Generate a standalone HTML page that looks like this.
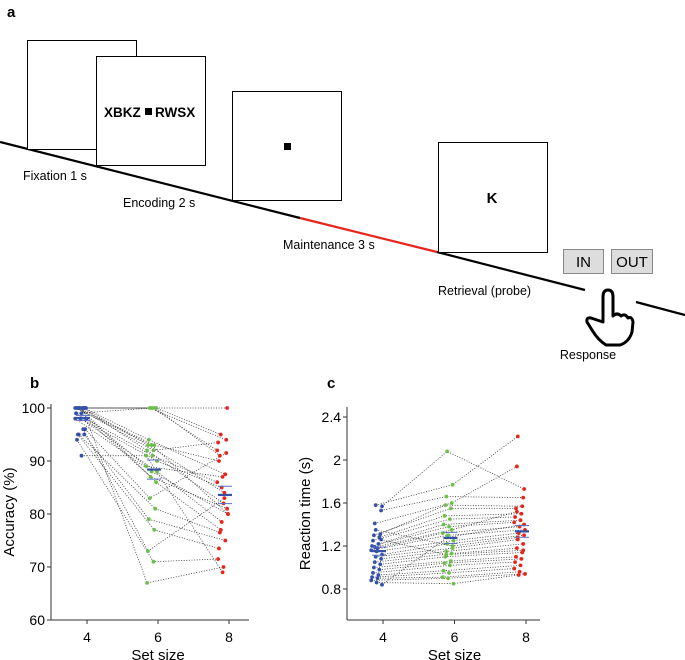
<!DOCTYPE html>
<html><head><meta charset="utf-8"><style>
body{margin:0;background:#fff;}
svg{display:block;font-family:"Liberation Sans",Arial,sans-serif;}
</style></head><body>
<svg id="fig" width="685" height="660" viewBox="0 0 685 660">
<g>
<text x="7" y="17" font-size="15" font-weight="bold">a</text>
<line x1="0" y1="142" x2="300" y2="218" stroke="#000" stroke-width="2.2"/>
<line x1="300" y1="218" x2="437" y2="252" stroke="#e8251d" stroke-width="2.2"/>
<line x1="437" y1="252" x2="585" y2="290" stroke="#000" stroke-width="2.2"/>
<line x1="636" y1="302" x2="685" y2="315" stroke="#000" stroke-width="2.2"/>
<rect x="27.5" y="40.5" width="109" height="109" fill="#fff" stroke="#000" stroke-width="1"/>
<rect x="96.5" y="56.5" width="109" height="109" fill="#fff" stroke="#000" stroke-width="1"/>
<text x="104" y="117" font-size="13.5" font-weight="bold">XBKZ</text>
<rect x="145" y="108" width="7" height="7" fill="#000"/>
<text x="155" y="117" font-size="13.5" font-weight="bold">RWSX</text>
<rect x="232.5" y="91.5" width="109" height="109" fill="#fff" stroke="#000" stroke-width="1"/>
<rect x="284" y="143" width="7" height="7" fill="#000"/>
<rect x="438.5" y="142.5" width="109" height="110" fill="#fff" stroke="#000" stroke-width="1"/>
<text x="492" y="203" font-size="15" font-weight="bold" text-anchor="middle">K</text>
<text x="23" y="180" font-size="12.5">Fixation 1 s</text>
<text x="123" y="207" font-size="12.5">Encoding 2 s</text>
<text x="283" y="249" font-size="12.5">Maintenance 3 s</text>
<text x="438" y="295" font-size="12.5">Retrieval (probe)</text>
<rect x="563.5" y="249.5" width="40" height="24" fill="#ddd" stroke="#888"/>
<text x="583.5" y="267" font-size="15" text-anchor="middle">IN</text>
<rect x="611.5" y="249.5" width="41" height="24" fill="#ddd" stroke="#888"/>
<text x="632" y="267" font-size="15" text-anchor="middle">OUT</text>
<g fill="#fff" stroke="#000" stroke-width="3" stroke-linejoin="round">
<path d="M603 322 L603 297 Q603 290 608 290 Q613 290 613 297 L613 316 Q617 312 621 316 Q625 313 628 318 Q632 316 633 322 L632 332 Q629 342 620 345 L606 345 Q598 340 592 330 L587 322 Q586 317 591 318 Z"/>
</g>
<text x="588" y="359" font-size="12.5" text-anchor="middle">Response</text>
</g>
<g id="pb">
<text x="30" y="388" font-size="15" font-weight="bold">b</text>
</g>
<g id="pc">
<text x="327" y="388" font-size="15" font-weight="bold">c</text>
</g>
</svg>
<script>
const setSizes=[4,6,8];
const acc4=[100,100,100,100,100,100,100,100,100,99,99,98,98,98,100,96,95,95,95,96,94,100,99,91,100,98];
const acc6=[100,100,100,100,94,93,93,92,92,91,89,88,88,87,86,83,81,79,77,73,71,67,100,91,93,90];
const acc8=[100,95,94,91,87.5,90,84,93.5,82,86,87,80,78.5,81,77,91.5,76.5,75,73.5,83,71.5,70,92,69,80,85];
const rt4=[1.57,1.58,1.53,1.41,1.31,1.30,1.28,1.25,1.22,1.20,1.18,1.16,1.15,1.12,1.10,1.08,1.05,1.03,1.00,0.98,0.95,0.93,0.91,0.90,0.88,0.86,0.84,1.35,1.26,1.19];
const rt6=[2.08,1.77,1.66,1.60,1.58,1.55,1.48,1.45,1.40,1.38,1.32,1.30,1.25,1.22,1.18,1.15,1.13,1.10,1.06,1.04,1.02,0.97,0.95,0.91,0.90,0.85,1.28,1.20,1.12,1.35];
const rt8=[1.73,2.22,1.65,1.94,1.57,1.55,1.50,1.47,1.44,1.42,1.38,1.35,1.32,1.30,1.26,1.22,1.18,1.14,1.10,1.08,1.05,1.02,0.99,0.96,0.94,0.93,1.40,1.28,1.16,1.52];
const accTicks=[60,70,80,90,100];
const rtTicks=[0.8,1.2,1.6,2,2.4];
const NS="http://www.w3.org/2000/svg";
function mk(parent,tag,attrs){const e=document.createElementNS(NS,tag);for(const k in attrs)e.setAttribute(k,attrs[k]);parent.appendChild(e);return e;}
function mean(a){return a.reduce((s,v)=>s+v,0)/a.length;}
function sem(a){const m=mean(a);return Math.sqrt(a.reduce((s,v)=>s+(v-m)*(v-m),0)/(a.length-1))/Math.sqrt(a.length);}
function panel(g,cfg){
  const xs=s=>cfg.x4+(s-4)/4*(cfg.x8-cfg.x4);
  const ys=v=>cfg.yb+(v-cfg.vb)/(cfg.vt-cfg.vb)*(cfg.yt-cfg.yb);
  const axY=mk(g,'line',{x1:cfg.ax,y1:cfg.atop,x2:cfg.ax,y2:cfg.abot,stroke:'#333','stroke-width':1});
  
  
  const axX=mk(g,'line',{x1:cfg.ax,y1:cfg.abot,x2:cfg.aright,y2:cfg.abot,stroke:'#333','stroke-width':1});
  
  
  cfg.ticks.forEach(t=>{
    const y=ys(t);
    const tk=mk(g,'line',{x1:cfg.ax-4,y1:y,x2:cfg.ax,y2:y,stroke:'#333'});
    
    
    const tl=mk(g,'text',{x:cfg.ax-6,y:y+5,'font-size':14,'text-anchor':'end'});tl.textContent=String(t);
    
    
  });
  setSizes.forEach(s=>{
    const x=xs(s);
    const tk=mk(g,'line',{x1:x,y1:cfg.abot,x2:x,y2:cfg.abot+4,stroke:'#333'});
    
    
    const tl=mk(g,'text',{x:x,y:cfg.abot+22,'font-size':14,'text-anchor':'middle'});tl.textContent=String(s);
    
    
  });
  const xt=mk(g,'text',{x:(cfg.x4+cfg.x8)/2,y:cfg.abot+40,'font-size':15,'text-anchor':'middle'});xt.textContent='Set size';
  
  
  const cy=(cfg.atop+cfg.abot)/2;
  const yt=mk(g,'text',{x:cfg.ax-37,y:cy,'font-size':15,'text-anchor':'middle',transform:`rotate(-90 ${cfg.ax-37} ${cy})`});yt.textContent=cfg.ytitle;
  
  
  const cols=['#3451a8','#6cc04a','#e8251d'];
  const jit=i=>-((i*7)%13)*0.9-1;
  const n=cfg.d[0].length;
  for(let i=0;i<n;i++){
    const pts=cfg.d.map((a,k)=>[xs(setSizes[k])+jit(i+k),ys(a[i])]);
    const pl=mk(g,'polyline',{points:pts.map(p=>p.join(',')).join(' '),fill:'none',stroke:'#333','stroke-width':0.8,'stroke-dasharray':'1 1.6'});
    
    
  }
  cfg.d.forEach((a,k)=>{
    a.forEach((v,i)=>{
      const c=mk(g,'circle',{cx:xs(setSizes[k])+jit(i+k),cy:ys(v),r:1.9,fill:cols[k]});
      
      
    });
    const m=mean(a),e=sem(a),x=xs(setSizes[k])-4;
    const ml=mk(g,'line',{x1:x-7,y1:ys(m),x2:x+7,y2:ys(m),stroke:'#3451a8','stroke-width':2.2});
    
    
    [m+e,m-e].forEach(v=>{
      const el=mk(g,'line',{x1:x-7,y1:ys(v),x2:x+7,y2:ys(v),stroke:'#5b72c0','stroke-width':1});
      
      
    });
  });
}
panel(document.getElementById('pb'),{x4:87,x8:229,yb:620,yt:408,vb:60,vt:100,ax:51,atop:404,abot:620,aright:249,ticks:accTicks,ytitle:'Accuracy (%)',d:[acc4,acc6,acc8]});
panel(document.getElementById('pc'),{x4:383,x8:526,yb:589,yt:417,vb:0.8,vt:2.4,ax:347,atop:407,abot:620,aright:540,ticks:rtTicks,ytitle:'Reaction time (s)',d:[rt4,rt6,rt8]});
</script>
</body></html>
